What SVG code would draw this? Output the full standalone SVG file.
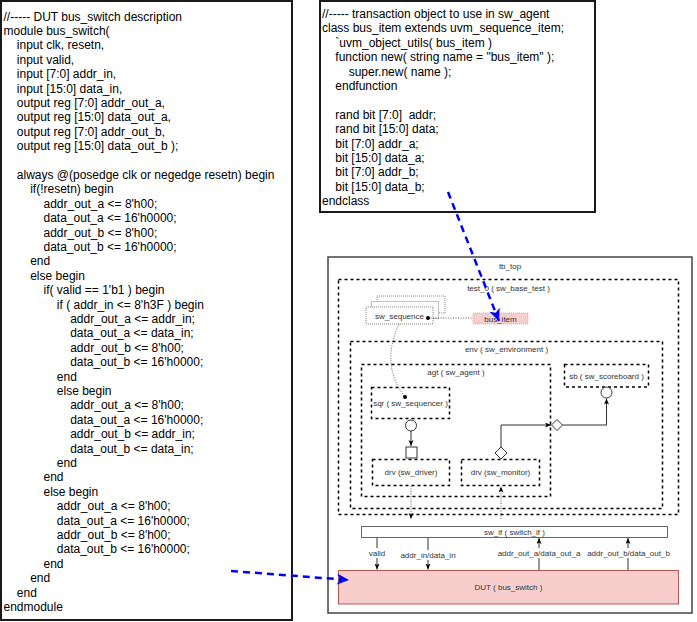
<svg xmlns="http://www.w3.org/2000/svg" width="697" height="622" viewBox="0 0 697 622">
<style>
.code{font-family:"Liberation Sans",Arial,sans-serif;font-size:12px;fill:#000}
.lbl{font-family:"Liberation Sans",Arial,sans-serif;font-size:8px;fill:#333;text-anchor:middle}
.dash{fill:none;stroke:#000;stroke-width:1.5;stroke-dasharray:3 3}
.dot{fill:none;stroke:#333;stroke-width:0.8;stroke-dasharray:1 1.5}
.ln{fill:none;stroke:#333;stroke-width:1}
.pink{fill:#f8cecc;stroke:#b85450;stroke-width:1}
.blue{fill:none;stroke:#0000ff;stroke-width:2.5;stroke-dasharray:7 5}
</style>
<defs>
<marker id="ah" markerUnits="userSpaceOnUse" markerWidth="8" markerHeight="6" refX="6" refY="2.5" orient="auto">
<path d="M0,0 L6,2.5 L0,5 L1.5,2.5 z" fill="#000"/>
</marker>
<marker id="bh" markerUnits="userSpaceOnUse" markerWidth="14" markerHeight="12" refX="12" refY="5.5" orient="auto">
<path d="M0,0 L12,5.5 L0,11 L3,5.5 z" fill="#0000ff"/>
</marker>
</defs>
<rect width="697" height="622" fill="#fff"/>

<g id="dut-code">
<rect x="1" y="1" width="291" height="619" fill="#fff" stroke="#1a1a1a" stroke-width="2"/>
<text class="code">
<tspan x="3.5" y="20.5">//----- DUT bus_switch description</tspan>
<tspan x="3.5" y="34.9">module bus_switch(</tspan>
<tspan x="16.8" y="49.3">input clk, resetn,</tspan>
<tspan x="16.8" y="63.7">input valid,</tspan>
<tspan x="16.8" y="78.1">input [7:0] addr_in,</tspan>
<tspan x="16.8" y="92.5">input [15:0] data_in,</tspan>
<tspan x="16.8" y="106.9">output reg [7:0] addr_out_a,</tspan>
<tspan x="16.8" y="121.3">output reg [15:0] data_out_a,</tspan>
<tspan x="16.8" y="135.7">output reg [7:0] addr_out_b,</tspan>
<tspan x="16.8" y="150.1">output reg [15:0] data_out_b );</tspan>
<tspan x="16.8" y="178.9">always @(posedge clk or negedge resetn) begin</tspan>
<tspan x="30.2" y="193.3">if(!resetn) begin</tspan>
<tspan x="43.5" y="207.7">addr_out_a &lt;= 8'h00;</tspan>
<tspan x="43.5" y="222.1">data_out_a &lt;= 16'h0000;</tspan>
<tspan x="43.5" y="236.5">addr_out_b &lt;= 8'h00;</tspan>
<tspan x="43.5" y="250.9">data_out_b &lt;= 16'h0000;</tspan>
<tspan x="30.2" y="265.3">end</tspan>
<tspan x="30.2" y="279.7">else begin</tspan>
<tspan x="43.5" y="294.1">if( valid == 1'b1 ) begin</tspan>
<tspan x="56.8" y="308.5">if ( addr_in &lt;= 8'h3F ) begin</tspan>
<tspan x="70.2" y="322.9">addr_out_a &lt;= addr_in;</tspan>
<tspan x="70.2" y="337.3">data_out_a &lt;= data_in;</tspan>
<tspan x="70.2" y="351.7">addr_out_b &lt;= 8'h00;</tspan>
<tspan x="70.2" y="366.1">data_out_b &lt;= 16'h0000;</tspan>
<tspan x="56.8" y="380.5">end</tspan>
<tspan x="56.8" y="394.9">else begin</tspan>
<tspan x="70.2" y="409.3">addr_out_a &lt;= 8'h00;</tspan>
<tspan x="70.2" y="423.7">data_out_a &lt;= 16'h0000;</tspan>
<tspan x="70.2" y="438.1">addr_out_b &lt;= addr_in;</tspan>
<tspan x="70.2" y="452.5">data_out_b &lt;= data_in;</tspan>
<tspan x="56.8" y="466.9">end</tspan>
<tspan x="43.5" y="481.3">end</tspan>
<tspan x="43.5" y="495.7">else begin</tspan>
<tspan x="56.8" y="510.1">addr_out_a &lt;= 8'h00;</tspan>
<tspan x="56.8" y="524.5">data_out_a &lt;= 16'h0000;</tspan>
<tspan x="56.8" y="538.9">addr_out_b &lt;= 8'h00;</tspan>
<tspan x="56.8" y="553.3">data_out_b &lt;= 16'h0000;</tspan>
<tspan x="43.5" y="567.7">end</tspan>
<tspan x="30.2" y="582.1">end</tspan>
<tspan x="16.8" y="596.5">end</tspan>
<tspan x="3.5" y="610.9">endmodule</tspan>
</text>
</g>

<g id="item-code">
<rect x="320" y="1" width="275" height="211" fill="#fff" stroke="#1a1a1a" stroke-width="2"/>
<text class="code">
<tspan x="322" y="18">//----- transaction object to use in sw_agent</tspan>
<tspan x="322" y="32.4">class bus_item extends uvm_sequence_item;</tspan>
<tspan x="335.3" y="46.8">`uvm_object_utils( bus_item )</tspan>
<tspan x="335.3" y="61.2">function new( string name = "bus_item" );</tspan>
<tspan x="348.7" y="75.6">super.new( name );</tspan>
<tspan x="335.3" y="90">endfunction</tspan>
<tspan x="335.3" y="118.8">rand bit [7:0]&#160; addr;</tspan>
<tspan x="335.3" y="133.2">rand bit [15:0] data;</tspan>
<tspan x="335.3" y="147.6">bit [7:0] addr_a;</tspan>
<tspan x="335.3" y="162">bit [15:0] data_a;</tspan>
<tspan x="335.3" y="176.4">bit [7:0] addr_b;</tspan>
<tspan x="335.3" y="190.8">bit [15:0] data_b;</tspan>
<tspan x="322" y="205.2">endclass</tspan>
</text>
</g>

<g id="tb_top">
<rect x="328" y="257" width="364" height="356" fill="#fff" stroke="#444" stroke-width="1.5"/>
<text class="lbl" x="510" y="269">tb_top</text>
</g>
<g id="test_0">
<rect class="dash" x="338.5" y="279.5" width="340" height="235"/>
<text class="lbl" x="508.5" y="291">test_0 ( sw_base_test )</text>
</g>
<g id="sw_sequence">
<rect x="377" y="296" width="68" height="17" fill="#fff" stroke="#666" stroke-width="0.8" stroke-dasharray="1 1"/>
<rect x="371.5" y="301.5" width="67" height="17" fill="#fff" stroke="#666" stroke-width="0.8" stroke-dasharray="1 1"/>
<rect x="366" y="307" width="67" height="17" fill="#fff" stroke="#666" stroke-width="0.8" stroke-dasharray="1 1"/>
<text class="lbl" x="399.5" y="318.5">sw_sequence</text>
<circle cx="428" cy="318" r="2" fill="#000"/>
</g>
<g id="bus_item">
<rect x="473" y="313" width="55" height="11" fill="#f8cecc" stroke="#d99" stroke-width="0.8" stroke-dasharray="1 1"/>
<text class="lbl" x="500.5" y="321.5">bus_item</text>
</g>
<g id="env">
<rect class="dash" x="350.5" y="341.5" width="312" height="167"/>
<text class="lbl" x="506.5" y="352">env ( sw_environment )</text>
</g>
<g id="agt">
<rect class="dash" x="361.5" y="364.5" width="189" height="132"/>
<text class="lbl" x="456" y="375">agt ( sw_agent )</text>
</g>
<g id="sqr">
<rect class="dash" x="371.5" y="387.5" width="78" height="31"/>
<text class="lbl" x="410.5" y="406">sqr ( sw_sequencer )</text>
<circle cx="405" cy="397" r="2" fill="#000"/>
<circle cx="411" cy="425.5" r="5.5" fill="#fff" stroke="#333" stroke-width="1"/>
</g>
<g id="drv">
<rect class="dash" x="372.5" y="459.5" width="77" height="26"/>
<text class="lbl" x="411" y="475">drv (sw_driver)</text>
<rect x="406" y="447" width="11" height="11" fill="#fff" stroke="#333" stroke-width="1"/>
</g>
<g id="mon">
<rect class="dash" x="461.5" y="459.5" width="78" height="26"/>
<text class="lbl" x="500.5" y="475">drv (sw_monitor)</text>
<path d="M501,447 L507,453 L501,459 L495,453 z" fill="#fff" stroke="#333" stroke-width="1"/>
</g>
<g id="sb">
<rect class="dash" x="564.5" y="364.5" width="84" height="22.5"/>
<text class="lbl" x="606.5" y="378.5">sb ( sw_scoreboard )</text>
<circle cx="606.5" cy="392.5" r="5.5" fill="#fff" stroke="#333" stroke-width="1"/>
</g>
<g id="analysis-port">
<path d="M557,419.5 L562.5,425 L557,430.5 L551.5,425 z" fill="#fff" stroke="#333" stroke-width="1"/>
</g>
<g id="sw_if">
<rect x="361.5" y="526.5" width="306" height="11" fill="#fff" stroke="#666" stroke-width="1"/>
<text class="lbl" x="514.5" y="534.5">sw_if ( switch_if )</text>
</g>
<g id="dut">
<rect class="pink" x="338.5" y="570.5" width="340" height="33.5"/>
<text class="lbl" x="508.5" y="590">DUT ( bus_switch )</text>
</g>

<g id="connectors">
<path class="dot" d="M428,318 H473"/>
<path class="dot" d="M399,324 Q380,365 405,397"/>
<path class="ln" d="M411,431 V446" marker-end="url(#ah)"/>
<path class="ln" d="M501,447 V425 H551" marker-end="url(#ah)"/>
<path class="ln" d="M562.5,425 H606.5 V398.5" marker-end="url(#ah)"/>
<path class="dot" d="M411,486 V519" marker-end="url(#ah)"/>
<path class="dot" d="M501,519 V486.5" marker-end="url(#ah)"/>
<path class="ln" d="M377,538 V569.5" marker-end="url(#ah)"/>
<path class="ln" d="M428,538 V569.5" marker-end="url(#ah)"/>
<path class="ln" d="M539,570 V538" marker-end="url(#ah)"/>
<path class="ln" d="M628,570 V538" marker-end="url(#ah)"/>
<rect x="367" y="548" width="20" height="10" fill="#fff"/>
<text class="lbl" x="377" y="556">valid</text>
<rect x="399" y="550" width="58" height="10" fill="#fff"/>
<text class="lbl" x="428" y="558">addr_in/data_in</text>
<rect x="498" y="548" width="82" height="10" fill="#fff"/>
<text class="lbl" x="539" y="556">addr_out_a/data_out_a</text>
<rect x="587" y="548" width="82" height="10" fill="#fff"/>
<text class="lbl" x="628.5" y="556">addr_out_b/data_out_b</text>
<path class="blue" d="M448,192 L499,321" marker-end="url(#bh)"/>
<path class="blue" d="M231,571 L349,580" marker-end="url(#bh)"/>
</g>
</svg>
